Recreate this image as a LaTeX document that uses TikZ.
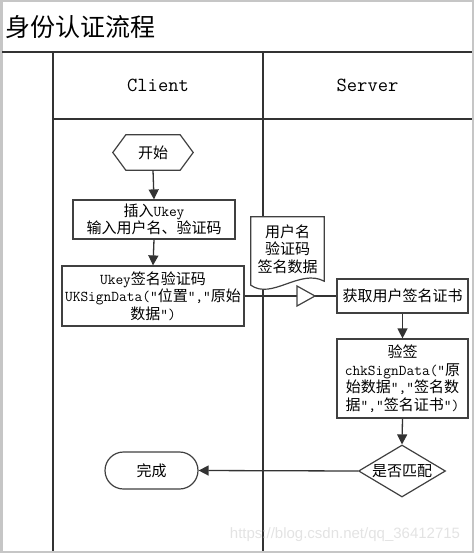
\documentclass[tikz,border=0pt]{standalone}
\usepackage{fontspec}
\newfontfamily\cjk{Noto Sans CJK SC}
\newfontfamily\wmfont{Liberation Sans}
\usetikzlibrary{arrows.meta,shapes.geometric}
\newcommand\mono[1]{{\ttfamily #1}}
\begin{document}
\begin{tikzpicture}[x=1pt,y=-1pt,
  lane/.style={draw=black!80,line width=1.8pt},
  border/.style={draw=black!75,line width=1.2pt},
  box/.style={border,fill=white,align=center,inner sep=0pt,
    font=\cjk\fontsize{15}{17.5}\selectfont},
  plain/.style={align=center,inner sep=0pt,font=\cjk\fontsize{15}{17.5}\selectfont},
  arr/.style={draw=black!80,line width=1.3pt,-{Triangle[width=10pt,length=10pt]}},
  conn/.style={draw=black!80,line width=1.3pt},
  hdr/.style={font=\ttfamily\fontsize{20}{24}\selectfont}]
\useasboundingbox (0,0) rectangle (474,553);
% outer frame
\draw[gray!45,line width=2.5pt] (1.25,1.25) rectangle (472.75,551.75);
% title
\node[anchor=west,inner sep=0pt,font=\cjk\fontsize{25}{30}\selectfont] (title) at (5,27) {身份认证流程};
% swimlane lines
\draw[lane] (2,52) -- (472,52);
\draw[lane] (53,52) -- (53,551);
\draw[lane] (53,119) -- (472,119);
\draw[lane] (263,52) -- (263,551);
\node[hdr] (client) at (158,85) {Client};
\node[hdr] (server) at (367.5,85) {Server};
% start hexagon
\node[plain,minimum width=80pt,minimum height=35pt] (start) at (153,152.5) {开始};
\draw[border] (start.west) -- ([shift={(13,0)}]start.north west) -- ([shift={(-13,0)}]start.north east)
  -- (start.east) -- ([shift={(-13,0)}]start.south east) -- ([shift={(13,0)}]start.south west) -- cycle;
% client boxes
\node[box,minimum width=162pt,minimum height=39pt] (b1) at (154,219.5) {插入\mono{Ukey}\\输入用户名、验证码};
\node[box,minimum width=182pt,minimum height=60pt] (b2) at (153,296) {\mono{Ukey}签名验证码\\\mono{UKSignData("}位置\mono{","}原始\\数据\mono{")}};
% document shape
\node[minimum width=73pt,minimum height=68pt,inner sep=0pt] (doc) at (287.5,251) {};
\draw[border,fill=white] (doc.north west) -- (doc.north east) -- ([shift={(0,-4)}]doc.south east)
  .. controls ([shift={(-24,-17)}]doc.south east) and ([shift={(21,15)}]doc.south west) .. (doc.south west) -- cycle;
\node[plain] (doctext) at ([shift={(0,-2)}]doc.center) {用户名\\验证码\\签名数据};
% server boxes
\node[box,minimum width=131pt,minimum height=34pt] (get) at (402.5,296) {获取用户签名证书};
\node[box,minimum width=131pt,minimum height=79pt] (ver) at (402.5,378.5) {验签\\\mono{chkSignData("}原\\始数据\mono{","}签名数\\据\mono{","}签名证书\mono{")}};
\node[border,diamond,fill=white,aspect=1.7,inner sep=0pt,minimum width=87pt,minimum height=52pt,
  font=\cjk\fontsize{15}{17.5}\selectfont] (dec) at (402,471) {是否匹配};
\node[box,rounded corners=18.5pt,minimum width=93pt,minimum height=37pt] (done) at (151.5,470.5) {完成};
% connectors
\draw[arr] (start.south) -- (b1.north);
\draw[arr] (b1.south) -- (b2.north);
\draw[conn] (b2.east) -- (get.west);
\coordinate (msg) at (306,296);
\draw[border,fill=white] ([shift={(-9,-10)}]msg) -- ([shift={(9,0)}]msg) -- ([shift={(-9,10)}]msg) -- cycle;
\draw[arr] (get.south) -- (ver.north);
\draw[arr] (ver.south) -- (dec.north);
\draw[arr] (dec.west) -- (done.east);
% watermark
\node[font=\wmfont\fontsize{15}{18}\selectfont,text=gray!22] (wm) at (345,535) {https://blog.csdn.net/qq\_36412715};
\end{tikzpicture}
\end{document}
